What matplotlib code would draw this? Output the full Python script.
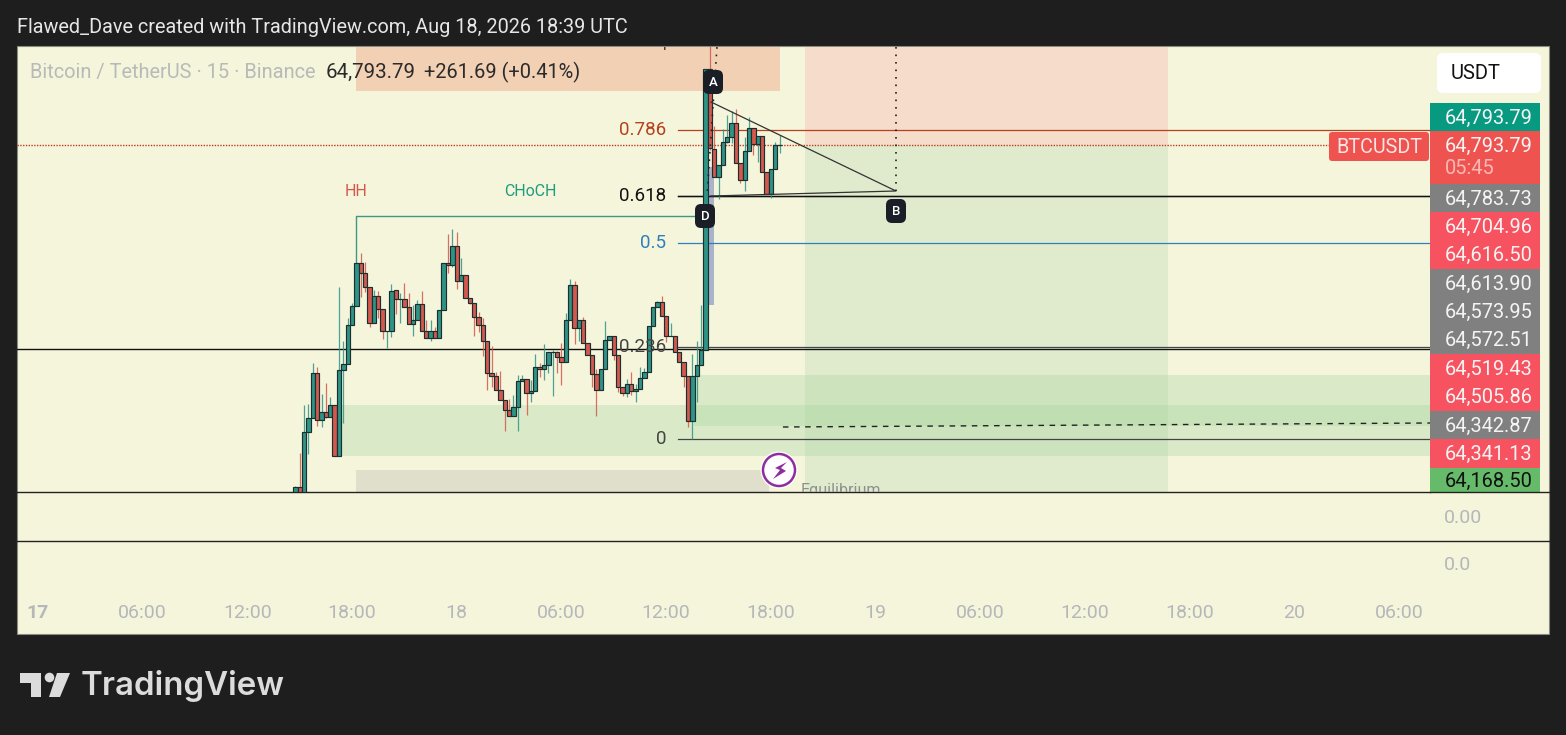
import matplotlib
matplotlib.use('Agg')
import matplotlib.pyplot as plt
import numpy as np
from matplotlib.patches import Rectangle, FancyBboxPatch, Polygon, Circle

plt.rcParams['font.family'] = ['Roboto', 'DejaVu Sans']

# candles: 15 min bars, prices given as amount above 64,000
base = 64000
first_bar = 14.75  # hours after Aug 17 00:00
opens = [168.5, 177.5, 160, 276.5, 301.7, 382.7, 298.7, 312.5, 303.5, 325.1, 233.9, 388.1, 398.9, 469.1, 503.3, 580.7,
         562.7, 538.7, 472.7, 522.5, 498.5, 458.3, 458.3, 532.1, 516.5, 516.5, 501.5, 470.9, 478.1, 506.9, 458.3, 446.9,
         458.3, 445.7, 496.1, 580.7, 577.7, 611.3, 548.3, 559.1, 517.7, 508.7, 483.5, 469.1, 440.3, 382.7, 377.3, 353.3,
         334.1, 316.1, 305.3, 321.5, 368.3, 371.9, 346.7, 351.5, 393.5, 389.9, 398.3, 420.5, 420.5, 411.5, 402.5, 478.1,
         541.1, 463.7, 478.1, 436.7, 415.1, 380.9, 352.1, 389.9, 442.1, 449.3, 415.1, 357.5, 347.9, 362.9, 350.3, 353.9,
         373.7, 384.5, 467.3, 501.5, 510.5, 486.5, 449.3, 449.3, 420.5, 402.5, 378.5, 296.3, 377.3, 397.1, 424.1, 929.9,
         785.9, 735.5, 757.1, 799.7, 808.7, 832.7, 760.7, 730.7, 782.9, 823.7, 794.9, 810.5, 744.5, 705.5, 749.9, 793.7]
highs = [179.9, 238.7, 325.7, 327.5, 400.7, 393.5, 344.9, 365.9, 340.7, 325.1, 537.5, 440.9, 481.7, 508.7, 580.7, 598.7,
         583.1, 538.7, 532.7, 530.9, 498.5, 458.3, 543.5, 532.1, 526.7, 544.7, 526.7, 505.1, 514.7, 530.9, 478.7, 478.7,
         466.7, 496.1, 580.7, 633.5, 642.5, 637.1, 589.7, 559.1, 517.7, 508.7, 493.7, 481.7, 440.3, 431.9, 384.5, 386.9,
         334.1, 335.9, 343.7, 379.7, 379.7, 371.9, 370.7, 417.5, 400.7, 434.9, 420.5, 424.7, 423.5, 436.7, 490.7, 551.9,
         548.9, 478.1, 484.7, 436.7, 415.1, 390.5, 389.9, 476.9, 449.3, 449.3, 415.1, 357.5, 372.5, 385.1, 362.9, 393.5,
         391.7, 467.3, 501.5, 512.9, 521.9, 486.5, 472.7, 449.3, 420.5, 402.5, 378.5, 417.5, 440.9, 505.7, 930.5, 994.7,
         827.9, 757.1, 821.9, 847.7, 855.5, 857.9, 760.7, 807.5, 843.5, 823.7, 810.5, 810.5, 744.5, 749.9, 799.7, 811.7]
lows = [160, 160, 160, 237.5, 301.7, 287.9, 286.7, 301.7, 303.5, 233.9, 233.9, 292.7, 398.9, 469.1, 503.3, 520.7,
        529.7, 466.7, 472.7, 481.7, 444.5, 428.9, 448.7, 489.5, 473.9, 501.5, 470.9, 450.5, 478.1, 458.3, 446.9, 441.5,
        445.7, 445.7, 496.1, 563.9, 574.7, 535.1, 548.3, 517.7, 507.5, 450.5, 457.7, 413.9, 352.7, 358.7, 353.3, 334.1,
        279.5, 305.3, 305.3, 279.5, 368.3, 307.7, 331.7, 351.5, 375.5, 370.7, 383.9, 341.9, 383.9, 361.7, 402.5, 478.1,
        434.9, 441.5, 436.7, 415.1, 358.7, 305.9, 352.1, 389.9, 442.1, 406.7, 349.7, 341.9, 340.7, 343.7, 331.7, 353.9,
        373.7, 384.5, 467.3, 501.5, 486.5, 439.7, 449.3, 420.5, 402.5, 358.7, 286.7, 263.9, 331.7, 397.1, 424.1, 784.7,
        735.5, 695.9, 757.1, 796.7, 796.7, 760.7, 725.9, 711.5, 782.9, 775.7, 763.7, 744.5, 705.5, 697.7, 749.9, 778.7]
closes = [177.5, 168.5, 276.5, 301.7, 382.7, 298.7, 312.5, 303.5, 325.1, 233.9, 388.1, 398.9, 469.1, 503.3, 580.7, 562.7,
          538.7, 472.7, 522.5, 498.5, 458.3, 458.3, 530.3, 516.5, 516.5, 501.5, 470.9, 478.1, 506.9, 458.3, 446.9, 458.3,
          445.7, 496.1, 580.7, 577.7, 611.3, 548.3, 559.1, 517.7, 508.7, 483.5, 469.1, 440.3, 382.7, 377.3, 353.3, 334.1,
          316.1, 305.3, 321.5, 368.3, 371.9, 346.7, 351.5, 393.5, 389.9, 398.3, 420.5, 420.5, 411.5, 402.5, 478.1, 541.1,
          463.7, 478.1, 436.7, 415.1, 380.9, 352.1, 389.9, 442.1, 449.3, 415.1, 357.5, 347.9, 362.9, 350.3, 353.9, 373.7,
          384.5, 467.3, 501.5, 510.5, 486.5, 449.3, 449.3, 420.5, 402.5, 378.5, 296.3, 377.3, 397.1, 424.1, 930.5, 787.7,
          735.5, 757.1, 799.7, 808.7, 832.7, 760.7, 730.7, 782.9, 823.7, 794.9, 810.5, 744.5, 705.5, 749.9, 793.7, 793.79]

# price levels
last_price = 64793.79
fib_labels = ['0.786', '0.618', '0.5', '0.236', '0']
fib_prices = [64820.8, 64702.0, 64617.4, 64430.0, 64264.6]
fib_colors = ['#b5421c', '#111111', '#2f7fbd', '#444444', '#444444']
long_line = 64426.6

# price scale labels, top to bottom
scale_labels = ['64,793.79', '64,793.79', '64,783.73', '64,704.96', '64,616.50', '64,613.90', '64,573.95',
                '64,572.51', '64,519.43', '64,505.86', '64,342.87', '64,341.13', '64,168.50']
scale_colors = ['#089981', '#ef5350', '#808080', '#f7525f', '#f7525f', '#808080', '#808080',
                '#808080', '#f7525f', '#f7525f', '#808080', '#f7525f', '#66bb6a']
scale_tops = [103, 131, 184, 212, 240, 269, 297, 325, 354, 382, 411, 439, 468]
scale_bottoms = [131, 184, 212, 240, 269, 297, 325, 354, 382, 411, 439, 468, 492]

tick_hours = [0, 6, 12, 18, 24, 30, 36, 42, 48, 54, 60, 66, 72, 78]
tick_labels = ['17', '06:00', '12:00', '18:00', '18', '06:00', '12:00', '18:00', '19', '06:00', '12:00', '18:00', '20', '06:00']

dark = '#1e1e1e'
pane = '#f5f5dc'
up = '#2e9486'
down = '#d4584e'
edge = '#1c2f2f'

fig = plt.figure(figsize=(15.66, 7.35), dpi=100, facecolor=dark)
W, H = 1566, 735

# overlay in screen pixels for the page furniture
back = fig.add_axes([0, 0, 1, 1], zorder=0)
back.set_xlim(0, W)
back.set_ylim(H, 0)
back.axis('off')
back.add_patch(Rectangle((17, 46), 1532, 588, fc=pane, ec='#8a8a80', lw=0.8))
back.plot([17, 1549], [541, 541], color='#222222', lw=1)

ax = fig.add_axes([17 / W, 1 - 492 / H, 1413 / W, 445 / H], zorder=1)
ax.patch.set_alpha(0)
ax.set_xlim(-1.2, 79.77)
ax.set_ylim(64169.2, 64970.2)
for s in ax.spines.values():
    s.set_visible(False)
ax.spines['bottom'].set_visible(True)
ax.spines['bottom'].set_color('#222222')
ax.spines['bottom'].set_linewidth(1)
ax.set_yticks([])
ax.set_xticks(tick_hours)
ax.set_xticklabels(tick_labels, fontsize=14, color='#b5b7ba')
ax.get_xticklabels()[0].set_fontweight('bold')
ax.tick_params(axis='x', length=0, pad=80.5)

# zones
ax.fill_between([18.22, 42.52], 64890.99, 64970.2, color='#f2d0b4', lw=0, zorder=1)
ax.fill_between([43.95, 64.76], last_price, 64970.2, color='#f6dccb', lw=0, zorder=1)
ax.fill_between([43.95, 64.76], 64169.2, last_price, color='#e0ebce', lw=0, zorder=1)
ax.fill_between([17.31, 79.77], 64234, 64325.8, color='#a8d5a0', alpha=0.35, lw=0, zorder=1.2)
ax.fill_between([37.59, 79.77], 64288, 64379.8, color='#a8d5a0', alpha=0.35, lw=0, zorder=1.2)
ax.fill_between([18.22, 41.9], 64169, 64208.8, color='#b8b8b0', alpha=0.35, lw=0, zorder=1.2)
ax.fill_between([38.34, 38.74], 64505.8, 64754.2, color='#a9b4cc', lw=0, zorder=1.5)

# drawings
ax.plot([18.22, 18.22, 37.94], [64583.2, 64666, 64666], color='#3c9a82', lw=1, zorder=2)
ax.plot([-1.2, 79.77], [long_line, long_line], color='#111111', lw=1, zorder=2)
for lab, p, c in zip(fib_labels, fib_prices, fib_colors):
    ax.plot([36.68, 79.77], [p, p], color=c, lw=0.9, zorder=2)
ax.plot([36.68, 79.77], [64702, 64702], color='#111111', lw=1, zorder=2)
ax.plot([-1.2, 74.04], [last_price, last_price], color='#c0391b', lw=1, ls=(0, (1, 1)), zorder=2)
ax.plot([42.69, 79.77], [64286.2, 64293.4], color='#222222', lw=1, ls=(0, (4, 4)), zorder=4)

# candles
x = first_bar + 0.25 * np.arange(len(opens))
o = base + np.array(opens)
h = base + np.array(highs)
l = base + np.array(lows)
c = base + np.array(closes)
is_up = c >= o
ax.vlines(x[is_up], l[is_up], h[is_up], color=up, lw=0.9, alpha=0.85, zorder=3)
ax.vlines(x[~is_up], l[~is_up], h[~is_up], color=down, lw=0.9, alpha=0.85, zorder=3)
ax.bar(x, np.abs(c - o), bottom=np.minimum(o, c), width=0.25,
       color=[up if u else down for u in is_up], edgecolor=edge, linewidth=0.85, zorder=3.5)

# triangle and dotted path
ax.plot([38.57, 49.17, 38.57], [64871.2, 64711, 64702], color='#333333', lw=0.9, zorder=5)
ax.plot([49.17, 49.17], [64970, 64711], color='#222222', lw=1.2, ls=(0, (1, 3.5)), zorder=5)
ax.plot([38.91, 38.34], [64970, 64702], color='#222222', lw=1.2, ls=(0, (1, 3.5)), zorder=5)

ax.text(43.7, 64171, 'Equilibrium', fontsize=11.5, color='#8f8f8f', va='center', clip_on=True, zorder=5)
ax.text(18.22, 64710, 'HH', fontsize=11.5, color=down, ha='center', va='center', zorder=5)
ax.text(28.2, 64710, 'CHoCH', fontsize=11.5, color='#1f9c7c', ha='center', va='center', zorder=5)
ax.text(35.9, 64971, '1', fontsize=9, color='#111111', ha='center', va='center', clip_on=True, zorder=5)
for lab, p, col in zip(fib_labels, fib_prices, fib_colors):
    ax.text(36.0, p, lab, fontsize=13.5, color=col, ha='right', va='center', zorder=6)

# top overlay in pixels
top = fig.add_axes([0, 0, 1, 1], zorder=2)
top.patch.set_alpha(0)
top.set_xlim(0, W)
top.set_ylim(H, 0)
top.axis('off')

top.text(17, 27, 'Flawed_Dave created with TradingView.com, Aug 18, 2026 18:39 UTC', color='#e6e6e6',
         fontsize=14.3, va='center')
top.text(30, 72, 'Bitcoin / TetherUS · 15 · Binance', color='#b8bab8', fontsize=14.4, va='center')
top.text(326, 72, '64,793.79', color='#2b2b2b', fontsize=14.8, va='center')
top.text(424, 72, '+261.69 (+0.41%)', color='#2b2b2b', fontsize=14.4, va='center')


def badge(x0, y0, x1, y1, color, r=4):
    top.add_patch(FancyBboxPatch((x0 + r, y0 + r), x1 - x0 - 2 * r, y1 - y0 - 2 * r,
                                 boxstyle='round,pad=%d,rounding_size=%d' % (r, r), fc=color, ec='none'))


badge(1437, 53, 1541, 93, 'white', 6)
top.text(1451, 73, 'USDT', color='#111111', fontsize=14.5, va='center')

badge(1329, 132, 1429, 161, '#ef5350', 3)
top.text(1379, 147, 'BTCUSDT', color='#fbe5e4', fontsize=14.2, ha='center', va='center')

for lab, col, t, b in zip(scale_labels, scale_colors, scale_tops, scale_bottoms):
    top.add_patch(Rectangle((1430, t), 110, b - t, fc=col, ec='none'))
    yc = (t + b) / 2 + 1
    tc = '#f4f4f4'
    if b - t > 40:
        yc = t + 15
        top.text(1445, t + 37, '05:45', color='#f9b9b6', fontsize=14.4, va='center')
    if lab == '64,168.50':
        tc = '#111111'
    top.text(1445, yc, lab, color=tc, fontsize=14.4, va='center')
top.text(1444, 518, '0.00', color='#b5b7ba', fontsize=14, va='center')
top.text(1444, 565, '0.0', color='#b5b7ba', fontsize=14, va='center')
top.plot([1430, 1549], [492, 492], color='#222222', lw=1)

for lab, cx, cy in [('A', 713, 82), ('D', 705, 216), ('B', 896, 211)]:
    badge(cx - 10, cy - 12, cx + 10, cy + 12, '#1a1e26', 6)
    top.text(cx, cy, lab, color='white', fontsize=9.5, ha='center', va='center', fontweight='medium')

# lightning badge
top.add_patch(Circle((779, 470), 18.5, fc='white', ec='none'))
top.add_patch(Circle((779, 470), 16, fc='white', ec='#8e2e9e', lw=1.8))
top.add_patch(Polygon([(787, 462), (775, 468), (780, 470), (773, 479), (786, 471), (781, 468)], fc='#8e2e9e', ec='none'))

# logo
logo = '#dcdcdc'
top.add_patch(Polygon([(20, 673), (41, 673), (41, 697), (31, 697), (31, 683), (20, 683)], fc=logo, ec='none'))
top.add_patch(Circle((49.5, 677.5), 4.8, fc=logo, ec='none'))
top.add_patch(Polygon([(57, 673), (70, 673), (60, 697), (49, 697)], fc=logo, ec='none'))
top.text(81, 686.5, 'TradingView', color=logo, fontsize=23.8, fontfamily='Inter', fontweight='semibold', va='center')

fig.savefig('out.png', dpi=100, facecolor=dark)
